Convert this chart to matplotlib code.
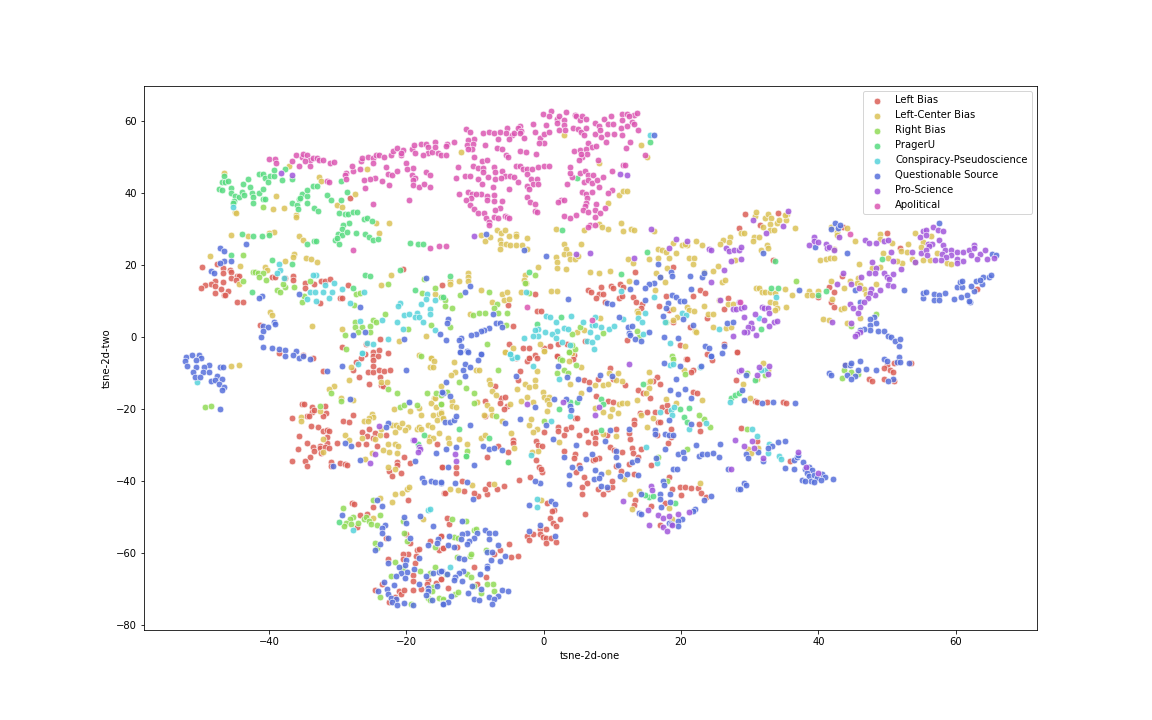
import matplotlib
matplotlib.use("Agg")
import matplotlib.pyplot as plt

categories = ["Left Bias", "Left-Center Bias", "Right Bias", "PragerU",
              "Conspiracy-Pseudoscience", "Questionable Source", "Pro-Science", "Apolitical"]
palette = ["#db5f57", "#dbc257", "#91db57", "#57db80", "#57d3db", "#5770db", "#a157db", "#db57b2"]

# t-SNE embedding of the articles, grouped by source label: (tsne-2d-one, tsne-2d-two)
left_bias = [
(-49.8,19.5),(-47.5,20.2),(-46.7,19.1),(-46.7,17.9),(-45.7,18.8),(-45.6,18),(-45.5,16.5),(-44.7,16.9),(-44.3,16.9),(-44.8,16),
(-47.8,15.7),(-48.5,14.8),(-49.3,14.5),(-49.9,13.6),(-47.9,14.2),(-46.7,15.3),(-47,13.3),(-45.9,12.9),(-47.9,12.4),(-46.6,11.8),(-46.4,11.6),
(-44.7,9.9),(-43.8,9.9),(-39.5,16.7),(-39.1,16.7),(-37.6,16.5),(-36.5,17),(-36.5,15.8),(-34.7,15.1),(-34.8,13.6),(-33.4,14.7),(-32.4,15.5),
(-31.8,15.5),(-31.1,16.3),(-28.5,14.4),(-29.6,11),(-29.4,10.8),(-32.6,9.5),(-28.2,38.6),(-20.5,19),(-41.3,3.5),(-23.9,-0.4),(-29.4,-2.7),
(-22.7,-4.5),(-25.9,-1.8),(-26,-4.8),(-24.9,-4.1),(-24,-3.6),(-24.8,-5.2),(-24.2,-5.3),(-38.5,-4.3),(-35.1,-5),(-33.6,-5.9),
(-14.8,14.4),(-1.3,12),(-5.2,8.8),(-1,7.2),(-0.4,7.2),(-4.4,3.2),(6.5,13),(6.9,12.6),(8.3,14),(8.1,11.9),(8.7,12.1),(7.6,11),(9.8,14.2),(10.1,13.8),
(11.1,14.7),(11.6,14),(10.9,11),(11.4,11.5),(8.9,9.7),(13.3,18),(13,11.1),(13.5,9.8),(14.3,9.3),(14.1,8),(17.8,11.5),(16.8,8.6),(18.8,19.5),(18.3,7.5),
(22.8,13),(23.5,12.3),(21.8,11.4),(26.3,7.9),(26.9,11),(28.4,30.4),(23.8,5.2),(21.3,2.7),(18.9,4.2),
(-5,-2),(-3,-3.1),(-2.2,-3),(-4.1,-5.7),(-2.2,-5.7),(-1.3,-5),(0.1,-3),(0.95,-2.5),(2.1,-1.8),(3.4,-1.9),(2,-5.2),(4.35,-5),(6,-1),(12.2,-0.8),(19.9,-2.2),(26.2,-1.9),(28.1,-4.1),(20.7,-6),
(29.3,34.3),(34.1,34.6),(31.5,31.2),(50,29),(51.9,24.7),(33.4,21.4),(43.4,17),(41.6,13.9),(42.3,12.6),(39.9,11.2),(41.8,9.8),(42.2,8.3),(63.1,13.5),(43.6,30.5),
(-32.2,-9.5),(-27.7,-9.2),(-25.6,-9.6),(-24.9,-9.6),(-24.9,-6.4),(-24.9,-7.9),(-24,-9),(-23.2,-9.3),(-22.4,-9.1),(-23.8,-11.1),(-26.9,-11.2),(-25.5,-13),(-23.7,-13.3),(-23.4,-13.5),
(-26.6,-5.9),(-27.3,-6.8),(-36.6,-22.4),(-35.2,-18.6),(-34.9,-18.6),(-33.8,-19.3),(-33.7,-20.7),(-33.4,-20.3),(-34.4,-21.8),(-34.2,-22),(-31.9,-19.2),(-31.7,-21),(-32.1,-22),
(-27.8,-21.6),(-29.2,-23.2),(-28.4,-23.6),(-33.9,-24.8),(-32.8,-25.1),(-32.2,-26.1),(-31.6,-25.9),(-31.2,-26.1),(-35.7,-27.4),(-31.5,-27.7),(-34.5,-29.5),(-30.1,-29.3),(-31.5,-29.4),
(-33.6,-30.4),(-32.5,-30.2),(-32.6,-30.8),(-31.8,-30.6),(-31.3,-30.9),(-35.8,-31),(-33.5,-31.7),(-32.4,-32.2),(-34,-33.4),(-36.6,-34.4),(-34.8,-34.4),(-34.5,-35.7),(-31,-34.7),(-31,-35.9),
(-29.6,-35.1),(-29,-35.2),(-28.7,-35.5),(-26.5,-26.5),(-25.4,-25.5),(-24.6,-26.7),(-25.7,-27.4),(-24.9,-27.9),(-27,-29.7),(-25.9,-29.8),(-24.3,-30.3),(-22.9,-27.3),(-20.3,-33.2),(-21.3,-34.8),
(-21.4,-35.6),(-22.5,-37.2),(-22.1,-38.5),(-20.8,-37.8),(-19.4,-34.9),(-14.8,-36.1),(-15.5,-29.7),(-14.5,-43.2),
(-19.8,-45.4),(-27.9,-46),(-27.6,-46.4),(-24.9,-47.2),(-26.7,-49.4),(-25.8,-49.2),(-27.2,-52.9),(-23,-55.8),(-20,-54.6),(-19.5,-57.1),(-16.5,-56.7),(-18.4,-59.2),(-18.2,-58.9),(-14.9,-55.3),
(-15.2,-59.2),(-14.7,-58.6),(-18.6,-60.7),(-19.7,-60.4),(-20.5,-60.4),(-20.5,-61.7),(-22.6,-61.6),(-18.7,-62.8),(-19,-66.1),(-19.1,-67.7),(-15,-67.2),(-16.8,-67.5),(-17,-68.6),(-15.7,-68.4),
(-23.6,-68.6),(-24.6,-70.2),(-21.1,-70.5),(-20.8,-71.5),(-20.3,-70.3),(-19,-70.3),(-17.9,-70),(-21.6,-72.3),(-22.5,-73.7),
(1.97,-5.3),(-2.5,-6.6),(-2.2,-5.9),(-1,-5.9),(-3.4,-9.4),(-3.8,-11.9),(4.3,-6.2),(9.6,-8.5),(5.8,-11.9),(6.6,-12.4),(7.9,-11.7),(10.1,-11.7),(11.8,-13.4),(16.5,-11),(15.9,-12.1),(17,-13),
(20.8,-6.1),(21.7,-9.2),(21.4,-9.8),(23.8,-4.7),(24.5,-6.4),(28.1,-4.1),(28,-11.9),(13.8,-14.7),(14.5,-15.6),(15.5,-16.8),(15,-20.9),(16.2,-20.9),(17.2,-19.3),(17.9,-18.9),(18,-20.5),(14,-21.2),
(13.1,-23),(13.1,-24.2),(16.7,-23.7),(17,-23.5),(18.6,-25.4),(18.5,-27.7),(16.5,-27.2),(12.6,-28.3),(12.4,-26.7),(21.8,-15.2),(22.3,-15.5),(22.6,-24.2),(22.7,-26),(18.1,-29.5),
(7.6,-16.4),(9.3,-17.7),(10.1,-18),(-8.6,-17.7),(-7.1,-13.6),(-6.2,-17),(-5.7,-16.6),(-6.3,-18.2),(-5.4,-19),(-5.8,-20.1),(-8.5,-21.8),(4.6,-22.6),(4.9,-22.6),(2.1,-25.1),(2.1,-26),(3.3,-25.6),
(3.95,-25.1),(3,-27.2),(5.2,-27.2),(6.1,-25.8),(7.2,-26.6),(7.6,-26.3),(9.2,-27.2),(10.5,-25.5),(7.4,-28.1),(6.4,-29.2),(7.4,-29.3),(0.1,-26.3),(-1.1,-28.8),(-0.8,-30),(-0.2,-30.3),(-4.4,-28.6),
(-4.4,-29.5),(-5.2,-32),(-8.3,-33.2),(-6.6,-30.3),(3,-31.7),(4.5,-32.5),(4.35,-33.5),(7.2,-34.2),(8.1,-33.5),(7.4,-34),(5.1,-35.5),(9.7,-30.5),(10.2,-31.4),(11.4,-31.9),(12.9,-30.9),(14.1,-31.2),
(13,-32.1),(13.7,-33.2),(12.4,-35.3),(15.6,-35.4),(-1.1,-34.2),(-0.75,-36),(-0.3,-37.6),(-0.4,-36.6),(-12.8,-37.7),(-12.8,-36.2),(-14.8,-36.2),(-11.9,-39.9),(-9.5,-44.2),(-8.2,-43.7),(-7.9,-40.9),
(-8.6,-42.3),(-6.8,-42.2),(-5.8,-41.4),(-10.2,-43.2),(-11.6,-42.9),(-14.3,-43.4),(-3.6,-39.6),(-2,-38.8),(4.65,-37.5),(5.9,-39),(6.3,-40.6),(5.6,-41.6),(5.6,-43.5),(7.9,-42.3),(8.6,-43.5),(9.4,-42.3),
(10,-41.7),(10,-39.9),(10.6,-35.7),(11.2,-37.3),(13.1,-38),(13.3,-45.3),(13.1,-46.6),(18.7,-42.3),(19.8,-41.7),(20.6,-41.7),(21.5,-41.8),(22.5,-42),(22.9,-43.2),(23.6,-44.3),(20,-44),(18.2,-39),(17.7,-46.2),
(15.6,-46.9),(17,-52.1),(6,-49.2),(0.5,-46.2),(1.5,-48),(1.2,-48.3),(0.85,-50.2),(2.4,-50.5),(1.4,-51.6),(1.8,-52.5),(-0.5,-53.3),(0.4,-53.3),(-1.5,-54.8),(-2.4,-55.2),(-2.1,-56.4),(-0.6,-54.7),(-0.1,-55.5),
(0.4,-55.9),(1,-55.9),(1.8,-57),(0.4,-57.3),(-14.1,-50.2),(-13.8,-51.9),(-14.9,-55.3),(-14.7,-58.7),(-12.6,-58.2),(-5,-57.5),(-6.4,-59.2),(-7.2,-60.4),(-4.7,-61.2),(-3.8,-60.8),(-10.1,-63.8),(-8.4,-66.7),
(-14.9,-67.1),(-14,-69.8),(-9.7,-68.7),
(43.8,-7.7),(50,-7.8),(49.6,-8.5),(51,-7.3),(50.4,-9),(50.8,-9.8),(53.5,-7.3),(47.3,-11.5),(47.8,-12.2),(49.5,-11.7),(51,-12.1),(30.7,-17.7),(31.1,-18.1),(32.5,-17.9),(34.8,-18.1),(35.3,-18.4),
(35.9,-34.5),(28.8,-25.2),(31,-29),
]
left_center_bias = [
(-46.5,45.5),(-32.7,44.4),(-32.4,43.5),(-25.7,46.8),(-27.5,39.9),(-39,39.3),(-39.4,35.7),(-37.8,35.8),(-36,33.9),(-36,33.4),(-30.1,36.8),(-29.4,36.1),(-45,34.9),(-44.8,34.5),(-24.4,31.8),(-22.5,31.7),
(-24,29),(-45.5,28.5),(-43.1,28.1),(-39.2,29.2),(-40,29),(-35.7,28.1),(-35,27.1),(-48.6,22.6),(-44.2,19.9),(-40.6,19.5),(-40.3,18.6),(-37.7,21.3),(-36.4,23),(-36.5,22.3),(-34.6,22.1),(-33.9,21.7),(-33,20.9),
(-22.3,17.4),(-23.7,14.6),(-44.3,14.9),(-39.8,7.1),(-39.6,6.2),(-33.8,3),(-29.4,2.2),(-17.2,0.3),(-21,-1),(-15.9,12.1),(-37.1,47.7),(-18.1,-5),(-16.4,-5.8),
(-12,51.5),(2.9,56.2),(14.1,53.5),(15.1,50.1),(8,48.4),(11,39.4),(11.5,40.6),(12.1,40.5),(9.3,37.3),(8.1,31.4),(8.5,30.6),(9.4,30.2),(11.3,31.6),(11.5,29.6),(12.7,30.1),(13.1,29.9),(16,29.5),(5.8,29.8),(1.8,30.1),
(-9.1,28.3),(-8.6,26.8),(-7.8,27.9),(-6.8,29.7),(-6.2,29),(-5.6,29.9),(-5,28.1),(-4,28.8),(-4,28.1),(-2.5,27.6),(-6.3,26.9),(-6.2,26),(-5.5,26),(-4.9,25.5),(-4.1,25.6),(-3.1,25.7),(-2.5,24.6),(-6.4,24.5),
(3,26),(3.3,24.6),(3,23.2),(3.7,23.2),(5.5,25.8),(1.8,22.4),(2,20.9),(3.8,21.6),(4.6,21.8),(5,22.5),(-0.8,19.6),(2,19.2),(3.2,18.9),(6.8,18),(8,17.8),(9.7,18.4),(-2.7,17.2),(-2.8,15.8),(-2.6,15.1),(-3.3,12.5),
(1.1,12.7),(1.9,12.8),(-11,17.7),(-11,16.6),(-11,15.7),(-12.3,15.6),(-13.6,15.6),(-13.6,14.9),(-9.2,13),(-6,11.9),(-5.4,12.5),(-5.8,10.4),(-5.1,10.7),(-7.5,9.9),(-10.7,6.5),(12.4,15.7),(16.2,13.1),(4.8,1.3),(5.8,1.9),
(8.2,5.2),(-5.6,-4),(-4.4,-3.1),(-0.6,-1.9),(0.1,-3.8),(4.1,-4.5),
(12.3,21.6),(13,20.7),(15.4,21.7),(16.6,24.6),(16.7,22),(17.2,24.2),(17.8,23.8),(18.3,22),(19.3,23.4),(18.8,26.1),(20.2,25.6),(20.9,25.5),(20.6,26),(22.2,26.6),(23.1,25.5),(21.1,21.9),(21.9,21.9),(21.8,20.4),
(17.9,19.3),(16.4,17.7),(17,16.6),(17.7,15.4),(23.3,18.1),(24.7,18.3),(25.4,19.8),(26.1,27),(25.6,25.9),(27.1,27.9),(27,26.5),(27.9,21.4),(26,15.3),(26.4,15.8),(13.6,7.3),(13.8,6.8),(18.9,7.7),(19.4,5.6),(20.9,8.4),
(21.1,7.5),(21.9,7.2),(23.3,8.6),(23.9,6.3),(24.7,6.4),(18.9,4.7),(22,1.7),(22.2,1.3),(24.7,2.7),(25.5,10.3),(26.9,9.2),(27.5,9.3),(26.5,2.5),(27.2,2.7),(20.6,-2.5),
(30.8,33.6),(30.9,34.7),(32.2,33),(32.6,34.2),(33.1,33.2),(33,31.4),(32,30.6),(33,29.9),(33.5,29.7),(33.9,31.7),(34.2,32.7),(35.3,32.5),(35.4,34.3),(35.2,34),(36.6,30.3),(28.8,29),(29.2,29),(30.6,27.8),(31.3,27.8),(30.5,26.7),
(32.5,25.7),(32.6,24.7),(31.6,24.2),(41.9,30.6),(44.2,30.4),(42.7,29.3),(42.7,28.3),(45.3,26.7),(49,28.7),(49,27.3),(50.7,26.1),(49.4,23.4),(50.1,22),(52,24),(53,25.9),(52.9,23.8),(54.1,29),(56.4,28.2),(55.2,26.5),(55,25.1),
(57.2,23.4),(56.3,21.4),(55.2,21.4),(53.6,21.6),(54,20.8),(58.7,20.7),(59.3,20.4),(52.1,20.5),(51.5,21.1),(40.3,21.5),(41.1,21.6),(41.7,22),(42.3,22.1),(42.3,24.5),(45.9,20.2),(47.8,19.3),(48.9,19.5),(45.7,16.5),(41.9,15.5),
(44.6,15.5),(43.7,13.6),(45.6,15),(46.1,14.4),(46.7,13.5),(48.4,14.9),(46.9,12),(38.6,12.9),(38.4,11.8),(39,11.7),(40,12.7),(36.2,11.7),(35.1,13.3),(30.9,13.7),(31.4,13.6),(31.8,12.6),(32.2,12.5),(32.9,12.5),(33.7,12.4),(32.9,9.7),
(33.7,9.6),(34,8),(33.7,7.5),(35.3,8.5),(42,10.7),(43.3,7.7),(43.7,8.1),(40.7,5.1),(41.6,4.7),(44.1,4),(46.1,5.3),
(-45.5,-8),(-44.4,-7.8),(-28,-8.4),(-28.3,-11.8),(-30.6,-13.5),(-31.2,-14.4),(-29.5,-16.8),(-27.7,-17.4),(-23.7,-12.5),(-22.8,-12.4),(-35.4,-22.3),(-35.4,-23.2),(-32.6,-20.4),(-25,-21.4),(-24.8,-22.1),(-25.5,-22.4),(-26.2,-23.4),
(-25.6,-23.4),(-21.8,-20),(-19.5,-20.6),(-18.2,-19.8),(-17.9,-21.7),(-16,-16.8),(-16.4,-18.4),(-15.8,-16.9),(-15.7,-19.5),(-16.1,-21.7),(-15.2,-21.4),(-15,-20.9),(-15.6,-23.1),(-14.6,-22.8),(-15,-13.5),(-16.4,-5.9),(-16,-6.6),(-16.6,-8.2),
(-16.1,-8.2),(-22.1,-24.5),(-21.5,-24.3),(-21.1,-25.1),(-20.7,-23.8),(-21.7,-26.5),(-19.8,-25),(-20.2,-25.8),(-18.5,-25.6),(-18.1,-25),(-17.9,-25.5),(-16.9,-24.3),(-16.3,-24.9),(-15.3,-26.7),(-16.7,-27.7),(-16.1,-28),(-16.7,-29),
(-23.8,-27.2),(-23.7,-25.5),(-28.9,-27.2),(-28.4,-28.5),(-32.2,-28.4),(-32.1,-32),(-26.5,-28.1),(-24.6,-28.3),(-22.6,-29.7),(-21.7,-29.6),(-21.2,-30.3),(-22.5,-32),(-21.3,-32.1),(-23.4,-31.4),(-25,-32.2),(-26,-33.9),(-22.7,-36.1),
(-21.6,-36.7),(-21.6,-43.6),(-20.7,-43.2),(-19.9,-42.2),(-19.6,-41.6),(-23.9,-44.7),(-22.1,-45.7),(-24.9,-50.4),(-17.6,-50.5),
(-5.6,-4.1),(0.1,-3.8),(-13,-7),(-12.9,-9.6),(-13.5,-10.6),(-9.8,-9.2),(-9.4,-9.1),(-1,-9.3),(3.7,-6.6),(5.5,-8.3),(9.5,-9.9),(10.8,-9.9),(11.4,-12.1),(10.6,-11.9),(8.6,-13.3),(9.3,-12.9),(7.5,-13.3),(3.8,-12.9),(5.4,-15.6),
(-7.9,-11.9),(-7.8,-13.1),(-7.5,-14.9),(-6.9,-16.1),(-3.9,-14.4),(-2.7,-12.9),(-2.1,-13.8),(-1.3,-11.9),(-1.3,-13.6),(-0.1,-15.2),(0.1,-16.6),(0.75,-16.6),(0.5,-17.5),(-3.3,-17.7),(-2.5,-16.6),(-1.6,-18),(0.7,-18.6),(0.5,-20.5),
(-9.7,-17.9),(-8.3,-18.9),(-7.7,-20.1),(-8.7,-21.7),(-7.5,-21.7),(-4.9,-18.6),(-6,-23.4),(-13.4,-17.8),(-13.4,-19.1),(-12.8,-19.3),(-15,-21),(-14.6,-22.6),(-2.2,-24.4),(-1.8,-22.7),(-1,-25.4),(-1.6,-26.4),(-4.8,-26.7),(-9.2,-28.1),
(-8.5,-27.2),(-12.3,-28.2),(-14,-28),(-13.8,-29.5),(-11.2,-29.8),(-4.3,-30.7),(2.3,-29.2),(-0.9,-31.6),(-1.7,-31.8),(10.6,-27.5),(8.6,-26.8),(7.5,-19.8),(8.7,-20.7),(10,-20.1),(10.8,-21.2),(9.7,-21.8),(10.95,-18.6),(11.4,-18.4),
(12.1,-18.2),(13.6,-17.6),(14.1,-21.7),(15.9,-22.5),(15,-24.9),(17.8,-17.1),(19.2,-18.2),(23.1,-17.5),(15.4,-9.6),(15.3,-12.6),(15.5,-12.3),(15.3,-14.2),(14.9,-15.6),(20.4,-9.2),(9.3,-37.4),(11.7,-39.5),(-10.5,-41.1),(-7.2,-40.9),
(-13.7,-42.3),(-12.5,-42.5),(12.6,-43.6),(13.9,-42.8),(12.9,-47.7),(18.2,-47.6),(22.8,-40.6),(-0.4,-45.3),(18.7,-50.5),
(31.9,-7.3),(32.7,-9.2),(29,-12.9),(30,-17),(29.8,-31),(31.2,-30.9),(30.2,-32.2),(31.1,-11.5),
]
right_bias = [
(-40.8,36.3),(-43.8,22.9),(-42.3,18.1),(-42,18.1),(-41.6,17.7),(-40.9,17.9),(-41.5,16.6),(-40.4,16),(-43.8,15.7),(-34,15.6),(-37.6,14),(-37.9,14.7),(-38.9,13.1),(-38.4,12.6),(-36.3,14),(-35.2,9.7),(-34.9,11.5),(-27.4,12.1),
(-26.8,12.2),(-27.6,8.9),(-22.7,14.9),(-17.7,12.3),(-15.8,13.6),(-14.9,11.2),(-23.1,6.4),(-27.5,4.2),(-27.5,2.7),(-26.4,2.7),(-25.3,3),(-24.8,4.7),(-24.4,4.1),(-25.3,1.5),(-28.9,0.7),(-27.1,1.5),(-28.8,-3.2),(-16.4,3.3),(-19.8,2.4),
(-17.9,-5.1),(-17.4,16.3),
(-8,12.6),(-12.2,11.7),(-14.3,10.3),(-14.4,8.7),(-13.4,8.2),(-6.8,9.3),(-7.3,8),(-6.6,6.6),(-5.4,6.7),(-10.3,6.1),(-9.4,6.6),(-8.6,6.7),(-5.5,3.3),(-8.2,-1.8),(-2.7,15.1),(-2.2,12.4),(-1.2,17.2),(-13.6,2.7),(4.1,1),(5.3,2.9),(8.7,1.1),
(13.6,1.7),(13.9,0.1),(3.7,-4.1),(4.6,-3.4),(4.1,-2.2),(2.4,-6),(17.8,4.2),
(36.8,15.5),(48.4,6.5),(44.8,3.2),
(-49.3,-19.3),(-48.5,-19),(-31,-15.4),(-29.5,-17.8),(-22.6,-14.5),(-21.4,-15.4),(-20.9,-19.3),(-20.3,-18.9),(-18.5,-18.8),(-17,-15.6),(-15.7,-15.4),(-15,-16.1),(-14.9,-18.7),(-32.6,-19.1),(-29.2,-47.4),(-24.8,-45.2),(-23.9,-49.5),
(-27.8,-49.9),(-28.2,-50.6),(-28.8,-51.7),(-29.1,-52.6),(-28.1,-51.9),(-27.1,-51.7),(-26.1,-50.6),(-25.9,-49.9),(-25.4,-51.1),(-25.1,-51.9),(-24.3,-52.2),(-20.5,-51.2),(-20.3,-54.3),(-19.9,-56.7),(-24.5,-57.2),(-24.3,-58.7),(-15.8,-58.2),
(-21.7,-62.4),(-20.5,-64.2),(-18,-65),(-16.6,-65.6),(-15.8,-63.8),(-22.2,-66.5),(-16.1,-69.5),(-16.3,-70.5),(-16.9,-72.6),(-16.6,-73.2),(-15.2,-72.5),(-23.8,-72.2),(-19.3,-74.2),(-14.6,-73),
(-6.6,-9.2),(2.6,-6.4),(3.7,-4.1),(3,-9),(2,-10.1),(4.7,-7.7),(3.6,-10.1),(-12.3,-12.5),(-11.3,-14.2),(-10.1,-15.5),(-10.1,-18.2),(-14.9,-18.6),(-14.1,-15.2),(-6.9,-21.8),(-5.2,-34.6),(-11.2,-31.7),(-11.3,-33.1),(0,-23.3),(16.7,-33.4),
(20.8,-31.2),(24.2,-24.9),(23.4,-22.8),(22.6,-21.5),(20.6,-10.3),(18.7,-5.3),(18.9,-6.1),(18,-40),(-13.3,-50.6),(-11.3,-51.1),(-10.2,-53.6),(-9.9,-53.4),(-13.1,-55.6),(-12.5,-55.9),(-8.4,-59.2),(-10.8,-60.7),(-10.6,-60.3),(-12.6,-61.2),
(-11.1,-65.8),(-10.6,-66.8),(-14.2,-65.8),(-7.4,-68.7),(-8.3,-68.7),(-7.3,-70.6),(-9.2,-71),(-12.9,-71.4),(-12.5,-70.9),(-14.7,-72.9),(-14.6,-74),(-10.2,-69.3),
(43.7,-9.2),(44.7,-9.8),(43.5,-11.4),(45.7,-10.3),(29.6,-25.5),(32.2,-10.5),(29.6,-9.9),
]
prageru = [
(-46.5,44.7),(-46.9,43.2),(-46.4,43.2),(-45.9,43.3),(-47.3,41.3),(-46.8,41),(-45.5,41.5),(-45.5,40.2),(-45,39.3),(-44.4,39),(-45.1,37.9),(-45.2,37.2),(-43.8,42.5),(-43,44),(-42.8,41.8),(-43.9,40.4),(-43.7,39.4),(-42.5,40.1),
(-42.4,39),(-42.3,37.3),(-41.5,40.1),(-40.8,41.1),(-40.9,38.5),(-40.6,38.3),(-41.5,45.3),(-40.8,45.4),(-40.6,44.3),(-39.9,44.9),(-39.2,44.7),(-39.3,46.6),(-40.1,43),(-38.1,43.8),(-37.6,46.8),(-36.6,44),
(-36.7,37.3),(-35.9,36.8),(-35.8,35.5),(-35.7,38.5),(-35.2,39.9),(-35.5,38.8),(-34.5,39.3),(-34.4,41),(-34.5,37.4),(-33.6,41.9),(-33,41.9),(-33.5,35.9),(-32.9,35.1),(-31.5,39.6),(-31,38),(-29.5,38.2),(-29.5,43.4),(-28.6,40.3),
(-29.8,34.4),(-29,34.1),(-28.5,34.1),(-27.8,34.8),(-27.2,34.7),(-26.2,32.8),(-25.7,33.2),(-25,32.3),(-28.4,31.7),(-29.2,31.3),(-29.4,30.1),(-30,28.7),(-29.3,28.4),(-28.6,29.3),(-30.4,27),(-29.8,26),(-30.1,27.6),(-27.3,28.9),(-26,28.8),
(-25.5,27.8),(-24.8,27),(-24.2,27.2),(-44,28.8),(-42.4,28.1),(-41,28.2),(-40,28.5),(-34.4,26),(-33.5,26.8),(-33.1,26.6),(-19.4,26.2),(-18.3,25.8),(-17.6,25.8),(-39.6,21.5),(-36.6,20.4),(-26,17.2),(-25.3,16.9),(-20.9,18.7),(-18.7,13),
(-27.8,13.8),(-42.5,12.6),(-45.5,22.8),
(2.7,29.9),(4.8,44.3),(15.5,54.3),(-13.7,17),(11.2,17.5),(-14.7,11.2),(15.1,23.6),(-2.2,18),(-1,3.6),(2.5,5.5),
(33.7,21.3),(49.3,21.8),(33.1,13.7),(34.1,13.8),(41.1,12.8),(40,11.7),(31.7,2.2),
(-17.5,-27.2),(-29.8,-51.4),(-18.3,-29.6),
(-8,-28.1),(-12.4,-25.5),(-11.3,-33.1),(-5.2,-34.6),(8.4,-25.9),(8.4,-17.1),(8.6,-18.6),(14.5,-13.1),(2.2,-19.9),(3.8,-18),(4.8,-18),(21.1,-19.8),(19.8,-20.1),(20.5,-22.3),(20.9,-23.5),(27.2,-16.8),(27.9,-16.1),(28.4,-15.6),
(19.1,-46.1),(15.3,-44.4),(14.8,-43.8),(15.9,-44.1),(30.7,-12),
]
conspiracy_pseudoscience = [
(-45.2,36.2),(-38.5,20.4),(-38.4,18.6),(-38.9,17.7),(-37.8,16.5),(-33.2,17.2),(-33.6,17.2),(-30.5,15),(-31.9,14.4),(-32.2,12.6),(-34.1,12.5),(-33.3,12.5),(-34.4,10.7),(-33.1,10),(-31.3,11),(-30.8,12.6),(-29.3,13.3),(-26.1,12.5),
(-28.2,9.6),(-20.9,9.5),(-21.2,8.6),(-20.4,6.2),(-19.6,6.3),(-18.5,6.8),(-18.8,5.5),(-18.1,5.5),(-17.6,4.1),(-17.9,9.1),(-17,11.9),(-17.1,10.7),(-15.8,10.4),(-16.6,7.7),(-16.5,6.4),(-23.5,4.9),(-21.4,4.2),(-20.5,2.4),(-26.8,4.4),
(-22.6,-0.6),(-25.8,-1.5),(-24.8,-2),(-26.5,-4.5),(-15.9,2.1),(15.5,56.2),
(-2.6,12.6),(11.2,12.8),(16,11.2),(14.7,6.7),(13.8,5.4),(14.3,4.3),(14.5,1),(11.5,5.1),(0.4,5.9),(0.95,5.5),(1.8,4.2),(4,5.9),(5.7,4.3),(7.5,5.5),(7,3.3),(7.5,3.4),(8.4,2.7),(9.5,2.2),(10.3,3.2),(2.9,2.6),(1.9,1.8),(3.6,2.2),
(-0.8,2.2),(-1.2,2.1),(0.2,1.4),(-0.8,0.4),(-1.6,0.4),(-2.8,-0.2),(1.2,0.8),(1.8,-0.1),(6.8,1.5),(7.75,0.1),(6.3,-1),(7,-1.3),(7.3,-3.2),(2.7,-1.3),(3.9,-2.2),(18.4,-1.6),(17.7,4.3),(20.1,6.8),(20.7,6.1),(25.5,2.4),(-4.1,-5.5),(-4.9,-4.8),
(33.8,11.2),(31.3,5.2),
(-50.5,-12.6),(-26.5,-4.5),(-27,-7.5),(-16.8,-48.1),(-16.5,-47.7),(-27.7,-53.7),
(-1.5,-7.9),(-4.6,-5.9),(-3.9,-5.6),(-4.9,-4.7),(2.3,-11.5),(3.8,-21.9),(1.1,-23.2),(-1.8,-32.8),(-1,-44.9),(-1,-47.1),(17,-20.7),(18.5,-20.3),(19,-19.5),(18.7,-21.7),(21.1,-25.5),(23.7,-24),(27.1,-17.9),(14.9,-30.4),(16.5,-34.9),
(18.4,-7.8),(22.7,-8.2),(18.9,-7.5),(-13.7,-63.8),
(30.3,-25.6),(31,-27.6),(32.8,-29.7),(32.7,-32.2),(34.2,-32.9),(34.5,-33.9),(32.2,-9.2),(31.7,-9.2),
]
questionable_source = [
(-43.4,25.9),(-47.1,24.7),(-46.5,24),(-46.5,21.3),(-45.5,21.2),(-47.2,20.5),(-48.5,18.5),(-48,17.9),(-35.6,11.9),(-41,11.4),(-41.4,11),(-26.8,8.5),(-17.1,16.4),(-39.3,4.2),(-39.1,3.6),(-40.8,3.1),(-40.1,2.7),(-40.8,1.6),(-41.2,0.1),
(-27.8,0.6),(-26,1.5),(-20.4,-0.5),(-15.1,0.9),(-40.8,-2.6),(-39.5,-2.9),(-38.6,-3.3),(-37.7,-3.5),(-37.7,-5.2),(-36.1,-3.9),(-36.5,-5),(-35.6,-5.9),(-35,-5.2),(-34.1,-6.1),(16.1,56.2),
(-8.4,28.7),(-2.8,24.2),(0.3,22.6),(3.6,10.5),(-10.7,14.3),(-11.5,12.6),(16.7,20.3),(18.5,18),(18.7,17),(17,16.6),(21.3,17),(23,16.6),(23.3,17.7),(16,15.1),(15.4,14.9),(13.4,15.4),(12.5,13.4),(14.8,13.6),(21.4,13.3),(9.2,9.5),(10,9.2),
(14.7,10.3),(18.7,11.8),(19.3,11.2),(19.9,10.1),(20.4,10.1),(18.1,9.6),(17.8,8.2),(17.3,6),(20.3,5.1),(10.9,5.6),(12.3,2.7),(12.9,3),(12.4,1.2),(12.6,0.5),(13.3,-0.5),(14.2,-1.2),(15.3,1.3),(17.5,0),(19.5,-0.2),(21.7,3.4),(23.5,-2.5),
(24,-2.9),(24.3,-5.1),(26.7,3.9),(27.5,4.1),(26.2,-2.4),
(-7.4,6.3),(-7,3.8),(-6.3,3.8),(-6,2.9),(-8,2.6),(-8.7,2),(-9.2,1.7),(-9.9,1),(-10.6,0.5),(-12.1,-0.1),(-12.4,-0.7),(-14.2,-0.8),(-12,-2.4),(-11.1,-3.8),(-12.2,-4.1),(-9.2,-4.7),(-14,5.1),(-14.1,3.8),
(32,23.5),(42.4,31.8),(41.9,30.1),(42.8,30.3),(43.1,31.1),(39.5,25),(44.1,23.4),(37.2,13.2),(57.6,31.6),(52.5,13.1),(45.4,13),(46,9.8),(48.1,5.6),(47.5,5.1),(48.4,3.8),(47.5,3.5),(47.5,1.9),(46.7,2.3),(48.7,1.8),(49.6,1.8),(50.2,0.4),
(50.5,0.1),(51.1,-1),(51.9,-0.6),(51.8,-2.4),(46.1,1.9),
(55.2,10.9),(55.2,12.2),(55.7,12.6),(56.9,11.9),(57.6,11.8),(56.9,10.4),(57.6,10.4),(58.5,12.4),(59.8,10.6),(60.8,11.1),(61.6,11.7),(62.6,12.8),(62.1,9.8),(61.9,10.1),(60.2,14),(60.9,14),(60.6,15.4),(60.9,15.6),(62.2,14.3),(62.9,15.7),
(63.8,14.9),(63.9,16.7),(63.6,15.8),(64.9,16.7),(65.2,17.2),(65.3,23),(65.9,22.9),
(-52.1,-5.4),(-51.2,-5),(-50.2,-5),(-49.9,-5.7),(-52.2,-6.6),(-50.7,-6.4),(-52,-8),(-50.6,-8.3),(-48.7,-7.8),(-49.4,-8.4),(-47.2,-8.2),(-46.7,-8.2),(-51.1,-9.7),(-49.6,-9.8),(-48.7,-9.7),(-50.8,-11.1),(-50,-11),(-47.5,-10.7),(-46.9,-11.6),
(-48.4,-12.3),(-47.8,-11.8),(-47.3,-13.1),(-46.6,-13.8),(-46.8,-14.7),(-47.1,-20),
(-29.3,-8),(-31.6,-9.5),(-20.1,-9.2),(-19.6,-18.1),(-28.2,-17.3),(-22.7,-24),(-22.9,-25.1),(-29,-29.4),(-28.1,-30.3),(-15.7,-32.1),(-26.8,-34.2),(-18.8,-34.5),(-30.7,-35.8),(-17.7,-39.2),(-17.5,-40.3),(-16.4,-40.1),(-15.8,-40.3),
(-14.9,-40.5),(-14.7,-15.4),
(-24.3,-45.3),(-23.5,-46.8),(-29.4,-49.3),(-20.4,-49.9),(-20,-51.6),(-18,-49.8),(-23.1,-52.1),(-23.6,-53),(-23.5,-54.3),(-22.6,-55.9),(-16.1,-52.6),(-19.5,-55.8),(-23.8,-57.5),(-24.6,-59.2),(-15.4,-56.2),(-15.6,-57.1),(-16.9,-57.7),
(-18.1,-61.5),(-20.1,-62),(-20.2,-63.4),(-21,-63.8),(-22.7,-62.8),(-18.9,-64.5),(-19.9,-65.3),(-20.8,-65.5),(-21.5,-66.4),(-20.2,-67),(-17.2,-66.5),(-16.1,-65.6),(-15.2,-65.3),(-14.8,-65),(-21.8,-68.9),(-23.3,-68.1),(-22.8,-69.9),(-24.1,-70.5),
(-22.7,-71.5),(-22.3,-72.6),(-21.5,-72.8),(-22.1,-73.5),(-21.4,-74.4),(-20.3,-73.9),(-19,-74.5),(-18.2,-68.7),(-15.5,-69.2),(-16.8,-69.8),(-16.8,-70.6),(-17.1,-71.6),(-16.2,-73.2),(-14.7,-74.3),
(-12.2,-4.2),(-11,-4),(-9.2,-4.7),(-9.6,-6.4),(-11.5,-7.6),(-10.8,-8.4),(-11.7,-9.2),(-11.4,-10.7),(-14.2,-12.4),(-14.8,-15.2),(-13.6,-16.3),(-4.1,-10.8),(2.1,-7.9),(3.4,-11),(5,-11.5),(8.2,-10.5),(10,-10.7),(6.6,-14.4),(18.4,-14.7),
(19.5,-15.9),(20.6,-14.5),(21.4,-16.9),(19.3,-11.6),(17.5,-7.1),(19.9,-8),(22.9,-8),(24.3,-5.2),(26,-4.5),(1.5,-17.3),(3.9,-19.2),(4,-20.3),(5.1,-17),(3.2,-17.3),(-1.2,-19.5),(-3.4,-22.7),(0.4,-24.4),(-5.6,-24),(-14.3,-23.7),(-13.7,-23.5),
(-13.1,-23),(-12.8,-21.9),(-10.8,-24.5),(-8.8,-30.3),(-8,-31.1),(-7.2,-30.8),(-6.1,-31.5),(-14.2,-31.2),(-12.7,-30.6),(-10.2,-35.5),(-14,-36),(-12.9,-40.6),(-11.1,-40.3),(-10.3,-45),(-14.9,-40.4),(-0.5,-40.6),(-1.3,-40),(1.3,-28.2),(4.7,-29.9),
(2.9,-33.4),(6.1,-34),(7.1,-32.5),(8.9,-29),(9.7,-25.7),(10.6,-31.7),(10.6,-33.4),(10.8,-35.4),(4.15,-36),(5.3,-36.5),(7.5,-36.9),(3.7,-38.4),(3.7,-40.8),(8.4,-38.1),(7.3,-39.3),(8,-39.2),(11.1,-38.6),(12.1,-38),(13.8,-38.2),(8.4,-41.5),
(9.2,-41.6),(12.4,-25.5),(16.2,-25.9),(16.2,-27),(17.6,-26.9),(18.2,-27.2),(18.8,-27.2),(12.9,-34.8),(13.6,-34.2),(16.4,-33.5),(19.6,-32.5),(20.3,-32),(20.5,-33.5),(17.6,-31.1),(22.2,-29.9),(22.6,-32.9),(23,-32.6),(23.8,-32.4),(24.7,-32.1),
(25.5,-33.2),(25.6,-29.7),(21.5,-24.2),(18.3,-23),(18.9,-36.7),(19.4,-36.7),(17.4,-40),(17.5,-41.1),(14.1,-43.6),(17,-43.6),(18.4,-43.7),(16.9,-45),(17.1,-47.2),(18.4,-45.7),(22.1,-47.8),(21.8,-48.2),(23.3,-45.2),(24.4,-44.2),(13.9,-49),
(14.2,-49.2),(20.1,-50.5),(19.6,-51),(19.5,-52.6),(18.2,-51.7),(18.5,-52),(26.9,-36.7),(28.3,-42.2),
(-2.1,-46.6),(1.1,-45.5),(1.6,-46.4),(-0.6,-52.2),(-2.2,-53.9),(1.7,-55.3),
(-11.9,-51.2),(-8.6,-53.7),(-8,-54.4),(-7.1,-54.4),(-7.9,-56),(-6.7,-57.8),(-9.7,-54.4),(-11.1,-54.3),(-11.9,-54.7),(-12.1,-56),(-10.2,-55.7),(-10.9,-56.8),(-11.2,-57.5),(-13.8,-55.3),(-13.9,-57.8),(-13,-58.4),(-8.3,-59.6),(-7.5,-59.6),
(-5.6,-60.7),(-7.7,-62),(-6.4,-62.2),(-8.3,-63.5),(-8.3,-64.2),(-12.3,-61.5),(-11.6,-61.7),(-15,-64.9),(-14.1,-65.8),(-11.8,-64.9),(-12.4,-65.5),(-9.3,-65.8),(-12.9,-66.7),(-13.1,-67.5),(-11.9,-67.9),(-10.5,-69.3),(-9.1,-70.1),(-11,-71),
(-13.5,-71.9),(-14,-73.7),(-14.7,-74.2),(-10.2,-72.9),(-9.4,-73.2),(-8,-72.3),(-6.6,-71.9),(-7.3,-72.9),(-7.5,-74.2),(-6,-70.3),(-5.2,-70.6),
(41.6,-10),(41.9,-10.5),(43.9,-7.8),(44.6,-7.8),(44.8,-7.2),(46.1,-6.7),(45.7,-9.2),(44.2,-10.5),(45.4,-10.8),(44.7,-11.5),(47,-8.8),(48.4,-9),(49.6,-6.2),(50,-6.7),(51.7,-5.5),(51.4,-7),(51.9,-6.8),(53.2,-7.1),(50.8,-11.5),(50.2,-12.1),
(29.4,-10.6),(28.9,-14.7),(29.1,-17.6),(31.8,-18.3),(33.4,-17.9),(36.6,-18.3),
(34.1,-29.2),(35.2,-29),(33.3,-30.3),(32.6,-30.7),(31.2,-31.8),(29.5,-32.4),(29.7,-33.7),(32,-34.4),(35.2,-36.3),(36.5,-36.7),(36.4,-34.2),(36.9,-33.2),(37.1,-32.7),(37.8,-34.6),(38.1,-36.7),(38.7,-36),(39.1,-36.9),(38.4,-37.7),(38.7,-38.6),
(39.3,-38.4),(40.5,-37.9),(40.9,-38.8),(39.8,-39.2),(40.4,-39.6),(38.9,-39.9),(39.4,-40.3),(37.6,-39.6),(38.1,-40),(42.1,-39.3),(29.1,-40.6),(29.4,-41),(28.6,-42.1),
]
pro_science = [
(-38.2,45.7),(-36.7,45.2),(-10.2,28.2),(11.1,45.3),(12.1,45),(15.6,30),(4.7,23.2),(6.8,23.5),(13.1,22),(18.2,24.9),(19.3,27.3),(20.9,26.7),(24,24.5),(24.3,24.3),(26.5,24.9),(27,24),(27.7,24.1),(28.4,24.3),(27.3,21.1),(26.3,18.6),
(24.4,15.2),(25.7,10.2),(27.6,7.8),(28,7.8),(27.6,0.4),(28.4,9.8),
(35.5,35.2),(30.5,32.6),(32.4,29),(34.9,30.9),(28.7,25),(28.8,21.6),(39.3,27.7),(39.3,26.8),(38.7,25.5),(40,26.4),(41.1,26),(41.3,24.8),(41.6,25),(43,27.9),(42.2,24.1),(46.8,27),(47.4,26.2),(48.4,26.1),(49.6,26.7),(50.2,27.1),(53.6,23.8),
(54.9,23.4),(54.8,27.8),(55.2,29.6),(55.7,29.7),(55.6,28.4),(56.7,30.5),(57.4,29.8),(58.2,29.4),(57.6,27.1),(56,25.8),(56.5,26),(56.1,25.4),(58.2,25.5),(58.4,24.3),(59.3,24.2),(60.2,23.6),(61,23.6),(61.9,24.2),(62.6,25.5),(62.6,24.8),
(62.2,22.8),(63.5,23.2),(64.3,24.1),(63.1,21.8),(58,23.2),(59.3,22.8),(58.6,22.3),(60.2,21.7),(61.1,21.3),(60.2,20.6),(65.5,22),(64.6,21.8),(57.8,21.4),(57,21.4),(55.6,24.2),(55.8,22.8),
(50.9,21.3),(50.5,23.6),(54,20.9),(52,19),(50.8,17.6),(47.8,20.9),(48.4,19.3),(47.4,17.9),(48.2,17.8),(49.5,17.7),(50,16.7),(50.3,16.1),(50.2,14.6),(50.8,14.2),(43.6,17.7),(46.2,16.7),(44.7,14.8),(42.7,14.8),(45.9,13.8),(47.6,13.5),
(48.9,13.2),(48.3,11.6),(47.5,12.4),(47.2,10.8),(46.6,9.9),(46,8.4),(44.6,9.1),(45,8),(45.7,6.6),(44.7,4),(42,4.1),(46,1.5),(45.6,1),(45.3,0.2),
(28.7,8),(29.2,8.4),(29.2,5.6),(30.8,6.3),(30.2,4),(31.8,8.4),(32.1,8),(32.7,8),(32.8,6.8),(32.1,4.7),(33.6,4.2),(33.9,4.5),(32.8,3),(30.4,2.5),(29.8,2.7),(29.6,1.4),(29.2,1.3),(30.9,0.7),
(-24,-24.8),(-19.1,-28.5),(-18.9,-28.5),(-18.2,-30.6),(-18,-31),(-18.3,-31.8),(-24.5,-32.6),(-25.3,-35.1),
(12.4,-7.6),(-2.5,-18.6),(2.8,-18),(8,-19.5),(7.5,-21.5),(-12.9,-32.6),(-12.8,-34.5),(11.5,-45.5),(15.6,-41.4),(15.7,-42.5),(15.2,-48),(16.6,-49.4),(17.4,-50.2),(18.3,-49.7),(19.6,-49.2),(21.1,-48.7),(15.3,-52.1),(18.7,-52.2),(17.4,-52.9),
(18,-53.8),(27.8,-28.5),(27.3,-36.7),(28.5,-9.3),
(28.7,-9.2),(32.8,-7.9),(31.3,-8.4),(32.7,-10.3),(31.1,-10.6),(30.3,-28.8),(29.1,-30.3),(30.6,-30.8),(32,-33.5),(37,-32),(38.2,-36.1),(39.9,-37.7),
]
apolitical = [
(-40,49.4),(-39.1,49.6),(-39,48.3),(-36.6,49.1),(-36,50.5),(-35.2,50.2),(-35,50.8),(-34.4,50.5),(-34,49.3),(-34.8,49),(-35.7,47.5),(-34.1,47.7),(-33.6,49.8),(-33,49.9),(-32.7,49.3),(-32.1,49.3),(-31.1,48.4),(-30.5,48.6),(-31.6,43.5),(-31.3,43.2),
(-28.8,45.6),(-29,45),(-27.7,46.3),(-27.9,47.7),(-28.8,43.9),(-26.7,46.8),(-26.6,49),(-26.4,49.9),(-25.6,50),(-24.9,49.8),(-24.8,48.5),(-24.4,50.5),(-24,50.6),(-23.2,50.2),(-22.2,50.5),(-21.9,51.7),(-21.4,52.5),(-20.8,50.7),(-20.5,52.1),(-20.8,51.2),
(-19.2,52.3),(-18.8,51.3),(-18.9,53.3),(-17.9,53.7),(-17.1,53.8),(-16.9,52.9),(-16.8,51.2),(-17.6,50.5),(-16.2,51.4),(-15.9,54.2),(-15.4,51.3),(-15.9,52.9),(-14.9,50.5),
(-22.9,47.2),(-22.7,45.3),(-22.1,45.2),(-21.3,46.1),(-20.1,48.5),(-19.1,47),(-19.9,46.8),(-19.2,45),(-18.7,44.3),(-19.1,43.6),(-19,42.2),(-18.2,41.7),(-17.4,42.6),(-17.1,45.9),(-16.6,45),(-16.6,41.7),(-24.6,44.3),(-25.3,43.9),(-26.1,43.6),(-26,41.5),
(-23.5,43.3),(-22.5,42.4),(-19.6,38),(-24.8,36.9),(-27.7,24.1),(-16.6,24.8),(-15.2,25.4),(-14.2,25.3),
(-11.3,57.9),(-10.7,57.1),(-8.8,56.7),(-8,57),(-7.2,56.7),(-6.3,57.1),(-5.4,58),(-5.5,56.8),(-4.6,56.1),(-4.3,56.7),(-3.4,58.7),(-3.7,58.1),(-3.3,57.3),(-3.4,56.8),(-1.6,59.2),(-1.3,56.9),(-2.9,55.4),(-5.1,55.2),(-6.7,55),(-10.2,55),(-11,54.7),
(-13.1,54.3),(-14.1,53.8),(-14.2,53),(-11.1,53.5),(-10.3,53.8),(-10.4,52.2),(-11,52.2),(-8.5,53.5),(-6.8,52.7),(-6.1,52.2),(-5.5,50.7),(-5.2,50),(-3.4,51.8),(-2.6,51.6),(-1.1,50.9),(-14.2,50.5),(-10.1,50.2),(-9,49),(-8.3,49.2),
(-0.6,55.4),(0,54),(-0.7,54),(0,56.4),(0.4,58.9),(0.7,57),(1,62.8),(-0.1,61.9),(0.7,61.6),(1.9,60.7),(2.3,61.5),(3.3,62.6),(2,59.5),(3,60.3),(2.9,59.1),(2.3,57.5),(3.1,57.7),(4.3,58),(5,57.8),(4.5,61.8),(4.7,61.4),(5.3,60.3),(5.6,61.4),(6.1,60.5),
(5.5,57),(6.2,58.2),(5.9,56.1),(7.4,59.5),(7.5,56.4),(8.1,58.6),(8.2,57.7),(8.8,60.5),(9.8,61.5),(9.4,59.3),(10.1,59.3),(9.2,56.6),(10.2,56.4),(11.4,61.9),(12.1,62.1),(13.1,61.7),(13.6,62.2),(12.4,61.5),(12.8,59.8),(11.4,60.3),(11.3,58.2),
(12.2,58.6),(13.1,59.3),(13.8,57.5),(11.4,56.1),(12.6,54.2),(12,52.7),(14.7,50.7),(8.4,55.5),(9.1,54.2),(6.4,54),(7,52.9),(7.6,53.1),(4.4,51.7),(5.3,52.1),(6.2,52.4),(5.6,50.1),(5.1,49.3),(6.3,50.8),(7.9,49.3),(5.4,51),
(-12.5,47.3),(-12.8,44.3),(-11.5,44.9),(-10.8,44.9),(-10.3,47.7),(-9.6,47.1),(-8.8,47.1),(-8.9,45.9),(-9.6,43.9),(-9,42.6),(-8.1,44.5),(-7.3,47.3),(-7.1,45.9),(-7.1,44),(-6.1,46.3),(-5.6,44.7),(-6.2,44.3),(-4.9,44.9),(-4.1,47.6),(-4.3,44.5),(-3.4,47.5),
(-3.8,43.1),(-3,46.8),(-2.4,46.8),(-1.7,46.8),(-0.9,47.3),(-2.4,45.3),(-1.9,44),(-1,44),(0.1,47.5),(0.8,47.7),(-1.6,42.7),(-0.8,42.5),(-7.4,41.7),(-2.4,41.9),(-2.2,41.1),(-5,41.3),(-12.4,39.8),(-11,40.4),(-10.4,39.9),(-9.2,39.9),(-10.6,38.8),(-11.3,38.1),
(-9.9,39.7),(-8.3,39.2),(-8.3,38.1),(-7.2,39.4),(-7.3,37.8),(-6,37.8),(-2.4,39),(-2,37.6),(-1.3,37.1),(-10.7,36.7),(-10.2,35.7),(-9.5,34.6),(-8.7,34.6),(-6.4,35.9),(-7.1,35.3),(-8.4,33),(-8,32),(-8,31.1),(-7.2,33.4),(-6.6,33),(-5.7,33.6),(-5.3,33.4),
(-5,33.1),(-1.2,35.2),(-1,34.9),(2.5,38.2),(2.1,37.5),(2.9,38.2),
(3.4,42.7),(4.1,44.5),(3.9,45.5),(3.9,47.3),(5.3,45.5),(6,46.3),(6.5,45),(7.2,45),(5.8,43),(6.4,43.8),(7,42.9),(7.8,43.6),(8.6,44.5),(8.1,41.7),(5.6,40.4),(6.2,39.9),(7,40.4),(6.3,38.8),(9.9,41),(9.3,40.1),(9.9,46.3),(6.1,37.3),(6,36.5),(7.6,37),
(5.7,35.3),(7.4,35.4),(6.5,34.8),(8.2,34.5),(8.9,36),(7.4,33.4),(3,33.6),(3.9,33.2),(4.7,33.9),(6.7,31.3),(7.5,31.3),(6.4,30.6),(11.5,47.8),(11.9,47.9),(-2.4,8.3),(7,4.9),(44.6,28.8),(28.6,9.8),
]

groups = [left_bias, left_center_bias, right_bias, prageru,
          conspiracy_pseudoscience, questionable_source, pro_science, apolitical]

fig, ax = plt.subplots(figsize=(16, 10), dpi=72)
fig.subplots_adjust(left=0.125, right=0.9, top=0.88, bottom=0.125)

for name, color, points in zip(categories, palette, groups):
    xs, ys = zip(*points)
    ax.scatter(xs, ys, s=44, c=color, alpha=0.85, edgecolors="white",
               linewidths=0.7, label=name)

ax.set_xlim(-58.2, 71.8)
ax.set_ylim(-81.4, 69.7)
ax.set_xlabel("tsne-2d-one")
ax.set_ylabel("tsne-2d-two")
ax.set_xticks([-40, -20, 0, 20, 40, 60])
ax.set_yticks([-80, -60, -40, -20, 0, 20, 40, 60])
ax.legend(loc="upper right")

fig.savefig("out.png", dpi=72)
